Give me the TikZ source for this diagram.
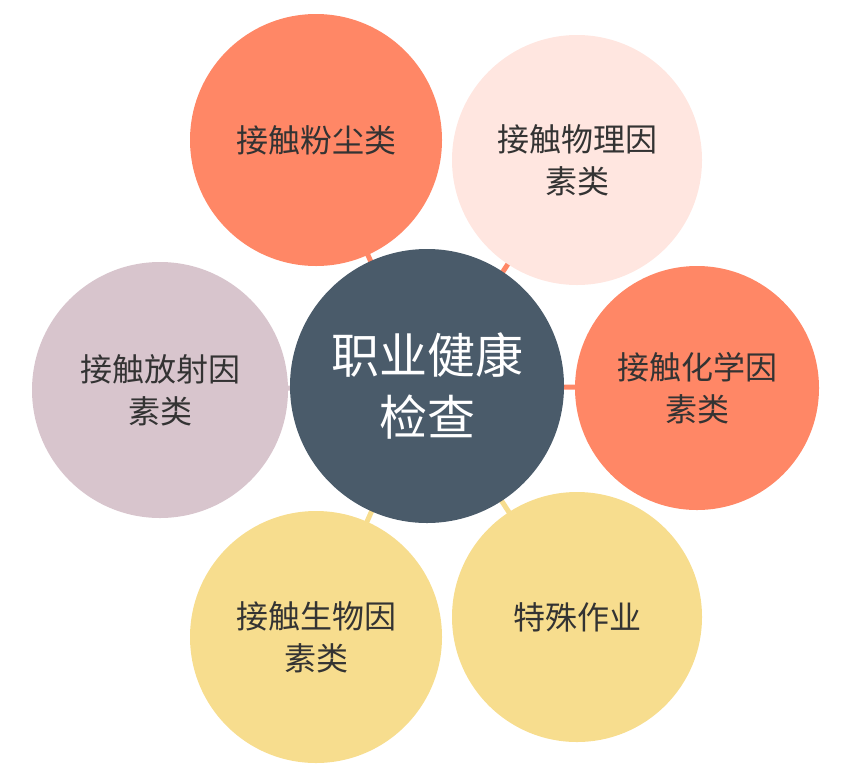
\documentclass[tikz,border=0pt]{standalone}
\usepackage{fontspec}
\newfontfamily\cjk{Noto Sans CJK SC}
\usetikzlibrary{backgrounds}
\definecolor{corange}{HTML}{FF8766}
\definecolor{cpink}{HTML}{FFE6E0}
\definecolor{clav}{HTML}{D8C5CD}
\definecolor{cyellow}{HTML}{F7DD8E}
\definecolor{cdark}{HTML}{4A5B6A}
\definecolor{ctext}{HTML}{333333}
\tikzset{
  outer/.style={circle, inner sep=0pt, align=center, text=ctext, font=\cjk\fontsize{24}{31.5}\selectfont},
  hub/.style={circle, inner sep=0pt, align=center, fill=cdark, text=white, minimum size=205.5pt, font=\cjk\fontsize{36}{47}\selectfont},
  link/.style={line width=3.75pt}
}
\begin{document}
\begin{tikzpicture}[x=0.75pt,y=-0.75pt]
\useasboundingbox (0,0) rectangle (841,764);
\node[hub] (c) at (427,386) {职业健康\\检查};
\node[outer, fill=corange, minimum size=189pt] (a) at (316,140) {接触粉尘类};
\node[outer, fill=cpink, minimum size=187.5pt] (b) at (577,160) {接触物理因\\素类};
\node[outer, fill=corange, minimum size=183pt] (d) at (697,388) {接触化学因\\素类};
\node[outer, fill=cyellow, minimum size=187.5pt] (e) at (577,617) {特殊作业};
\node[outer, fill=cyellow, minimum size=189pt] (f) at (316,637) {接触生物因\\素类};
\node[outer, fill=clav, minimum size=192pt] (g) at (160,390) {接触放射因\\素类};
\begin{scope}[on background layer]
\draw[link, corange] (c.center) -- (a.center);
\draw[link, corange] (c.center) -- (b.center);
\draw[link, corange] (c.center) -- (d.center);
\draw[link, cyellow] (c.center) -- (e.center);
\draw[link, cyellow] (c.center) -- (f.center);
\draw[link, clav] (c.center) -- (g.center);
\end{scope}
\end{tikzpicture}
\end{document}
